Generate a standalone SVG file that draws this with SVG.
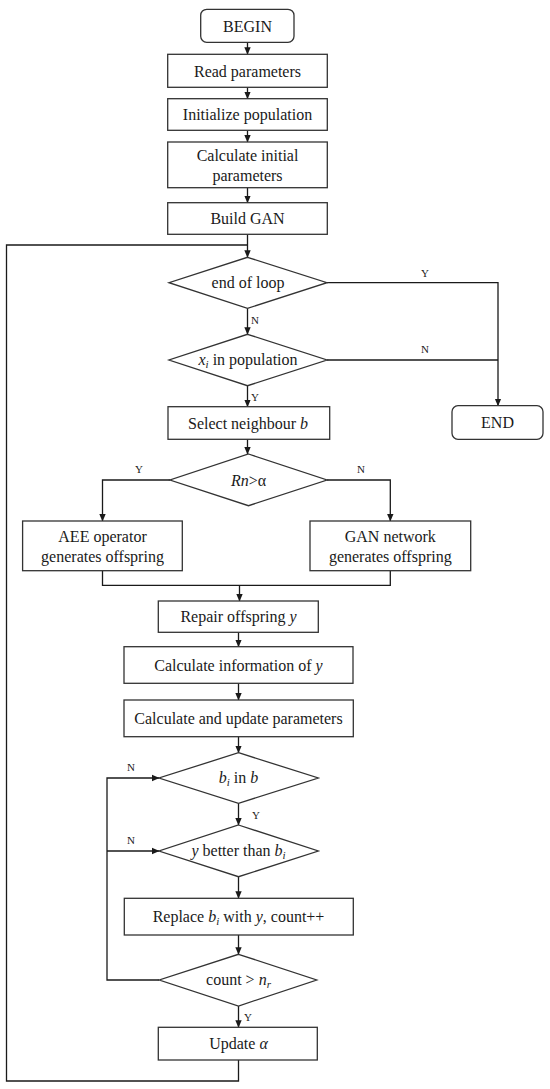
<svg xmlns="http://www.w3.org/2000/svg" width="550" height="1089" viewBox="0 0 550 1089">
<defs>
<marker id="ah" markerWidth="8" markerHeight="8" refX="7" refY="4" orient="auto" markerUnits="userSpaceOnUse">
<path d="M0,0.8 L7.5,4 L0,7.2 Z" fill="#1a1a1a"/>
</marker>
<style>
.n{fill:#fff;stroke:#333;stroke-width:1.3}
.t{font-family:"Liberation Serif","Times New Roman",serif;font-size:16px;fill:#1a1a1a;text-anchor:middle}
.l{font-family:"Liberation Serif","Times New Roman",serif;font-size:11px;fill:#1a1a1a}
.c{fill:none;stroke:#1a1a1a;stroke-width:1.3}
.a{marker-end:url(#ah)}
.i{font-style:italic}
</style>
</defs>
<rect width="550" height="1089" fill="#fff"/>
<g id="connectors">
<path class="c a" d="M247.5,42.3 V54.3"/>
<path class="c a" d="M247.5,87.3 V98.7"/>
<path class="c a" d="M247.5,130.3 V142"/>
<path class="c a" d="M247.5,187.7 V202.7"/>
<path class="c a" d="M247.5,234.3 V257.3"/>
<path class="c" d="M238.5,1060 V1081 H6.5 V245 H247.5"/>
<path class="c a" d="M327,282.7 H498 V405.7"/>
<text class="l" x="421" y="277">Y</text>
<path class="c a" d="M247.5,308.3 V334.3"/>
<text class="l" x="251" y="324">N</text>
<path class="c" d="M327,360 H498"/>
<text class="l" x="421" y="353">N</text>
<path class="c a" d="M247.5,385.7 V406.7"/>
<text class="l" x="251" y="401">Y</text>
<path class="c a" d="M247.5,439.3 V454"/>
<path class="c a" d="M170,480 H102.5 V521"/>
<text class="l" x="135" y="473">Y</text>
<path class="c a" d="M327,480 H390.3 V521"/>
<text class="l" x="357" y="473">N</text>
<path class="c" d="M102.5,570.7 V585.3 H390.3 V570.7"/>
<path class="c a" d="M239.5,585.3 V601"/>
<path class="c a" d="M238.5,632.3 V646.7"/>
<path class="c a" d="M238.5,683.3 V700"/>
<path class="c a" d="M238.5,736.7 V752.7"/>
<path class="c a" d="M238.5,803.3 V825"/>
<text class="l" x="252" y="819">Y</text>
<path class="c a" d="M238.5,876.7 V898.3"/>
<path class="c a" d="M238.5,935 V954.3"/>
<path class="c a" d="M238.5,1006 V1027.3"/>
<text class="l" x="244" y="1021">Y</text>
<path class="c a" d="M159,980 H107 V778 H159"/>
<path class="c a" d="M107,851 H159"/>
<text class="l" x="127" y="771">N</text>
<text class="l" x="127" y="844">N</text>
</g>
<g id="begin"><rect class="n" x="200.7" y="9.3" width="93.3" height="33" rx="6"/><text class="t" x="247.5" y="31.5">BEGIN</text></g>
<g id="read"><rect class="n" x="167.7" y="54.3" width="159.6" height="33"/><text class="t" x="247.5" y="76.5">Read parameters</text></g>
<g id="init"><rect class="n" x="167.7" y="98.7" width="159.6" height="31.6"/><text class="t" x="247.5" y="120">Initialize population</text></g>
<g id="calcinit"><rect class="n" x="167.7" y="142" width="159.6" height="45.7"/><text class="t" x="247.5" y="160.5">Calculate initial</text><text class="t" x="247.5" y="180.5">parameters</text></g>
<g id="build"><rect class="n" x="167.7" y="202.7" width="159.6" height="31.6"/><text class="t" x="247.5" y="224">Build GAN</text></g>
<g id="endloop"><polygon class="n" points="247.5,257.3 327,282.7 247.5,308.3 169,282.7"/><text class="t" x="248" y="288">end of loop</text></g>
<g id="xin"><polygon class="n" points="247.5,334.3 327,360 247.5,385.7 169,360"/><text class="t" x="248" y="365"><tspan class="i">x</tspan><tspan class="i" font-size="11" dy="3">i</tspan><tspan dy="-3"> in population</tspan></text></g>
<g id="select"><rect class="n" x="168" y="406.7" width="161.7" height="32.6"/><text class="t" x="248" y="428.5">Select neighbour <tspan class="i">b</tspan></text></g>
<g id="end"><rect class="n" x="452" y="405.7" width="91" height="33.6" rx="6"/><text class="t" x="497.5" y="428">END</text></g>
<g id="rn"><polygon class="n" points="248.5,454 327,480 248.5,505.7 170,480"/><text class="t" x="248.5" y="485.5"><tspan class="i">Rn</tspan>&gt;α</text></g>
<g id="aee"><rect class="n" x="22.6" y="521" width="159.7" height="49.7"/><text class="t" x="102.5" y="542">AEE operator</text><text class="t" x="102.5" y="561.5">generates offspring</text></g>
<g id="gan"><rect class="n" x="310" y="521" width="160.7" height="49.7"/><text class="t" x="390.3" y="542">GAN network</text><text class="t" x="390.3" y="561.5">generates offspring</text></g>
<g id="repair"><rect class="n" x="158.3" y="601" width="160" height="31.3"/><text class="t" x="238.5" y="622">Repair offspring <tspan class="i">y</tspan></text></g>
<g id="calcinfo"><rect class="n" x="124" y="646.7" width="229" height="36.6"/><text class="t" x="238.5" y="670.5">Calculate information of <tspan class="i">y</tspan></text></g>
<g id="calcupd"><rect class="n" x="124" y="700" width="229.3" height="36.7"/><text class="t" x="238.5" y="723.5">Calculate and update parameters</text></g>
<g id="biinb"><polygon class="n" points="238.5,752.7 318.3,778 238.5,803.3 159,778"/><text class="t" x="238.5" y="783"><tspan class="i">b</tspan><tspan class="i" font-size="11" dy="3">i</tspan><tspan dy="-3"> in </tspan><tspan class="i">b</tspan></text></g>
<g id="better"><polygon class="n" points="238.5,825 318.3,851 238.5,876.7 159,851"/><text class="t" x="238.5" y="856"><tspan class="i">y</tspan> better than <tspan class="i">b</tspan><tspan class="i" font-size="11" dy="3">i</tspan></text></g>
<g id="replace"><rect class="n" x="124.3" y="898.3" width="229" height="36.7"/><text class="t" x="238.5" y="922">Replace <tspan class="i">b</tspan><tspan class="i" font-size="11" dy="3">i</tspan><tspan dy="-3"> with </tspan><tspan class="i">y</tspan>, count++</text></g>
<g id="count"><polygon class="n" points="238.5,954.3 316.7,980 238.5,1006 159.3,980"/><text class="t" x="238.5" y="985">count &gt; <tspan class="i">n</tspan><tspan class="i" font-size="11" dy="3">r</tspan></text></g>
<g id="update"><rect class="n" x="158.3" y="1027.3" width="159" height="32.7"/><text class="t" x="238.5" y="1049">Update <tspan class="i">α</tspan></text></g>
</svg>
